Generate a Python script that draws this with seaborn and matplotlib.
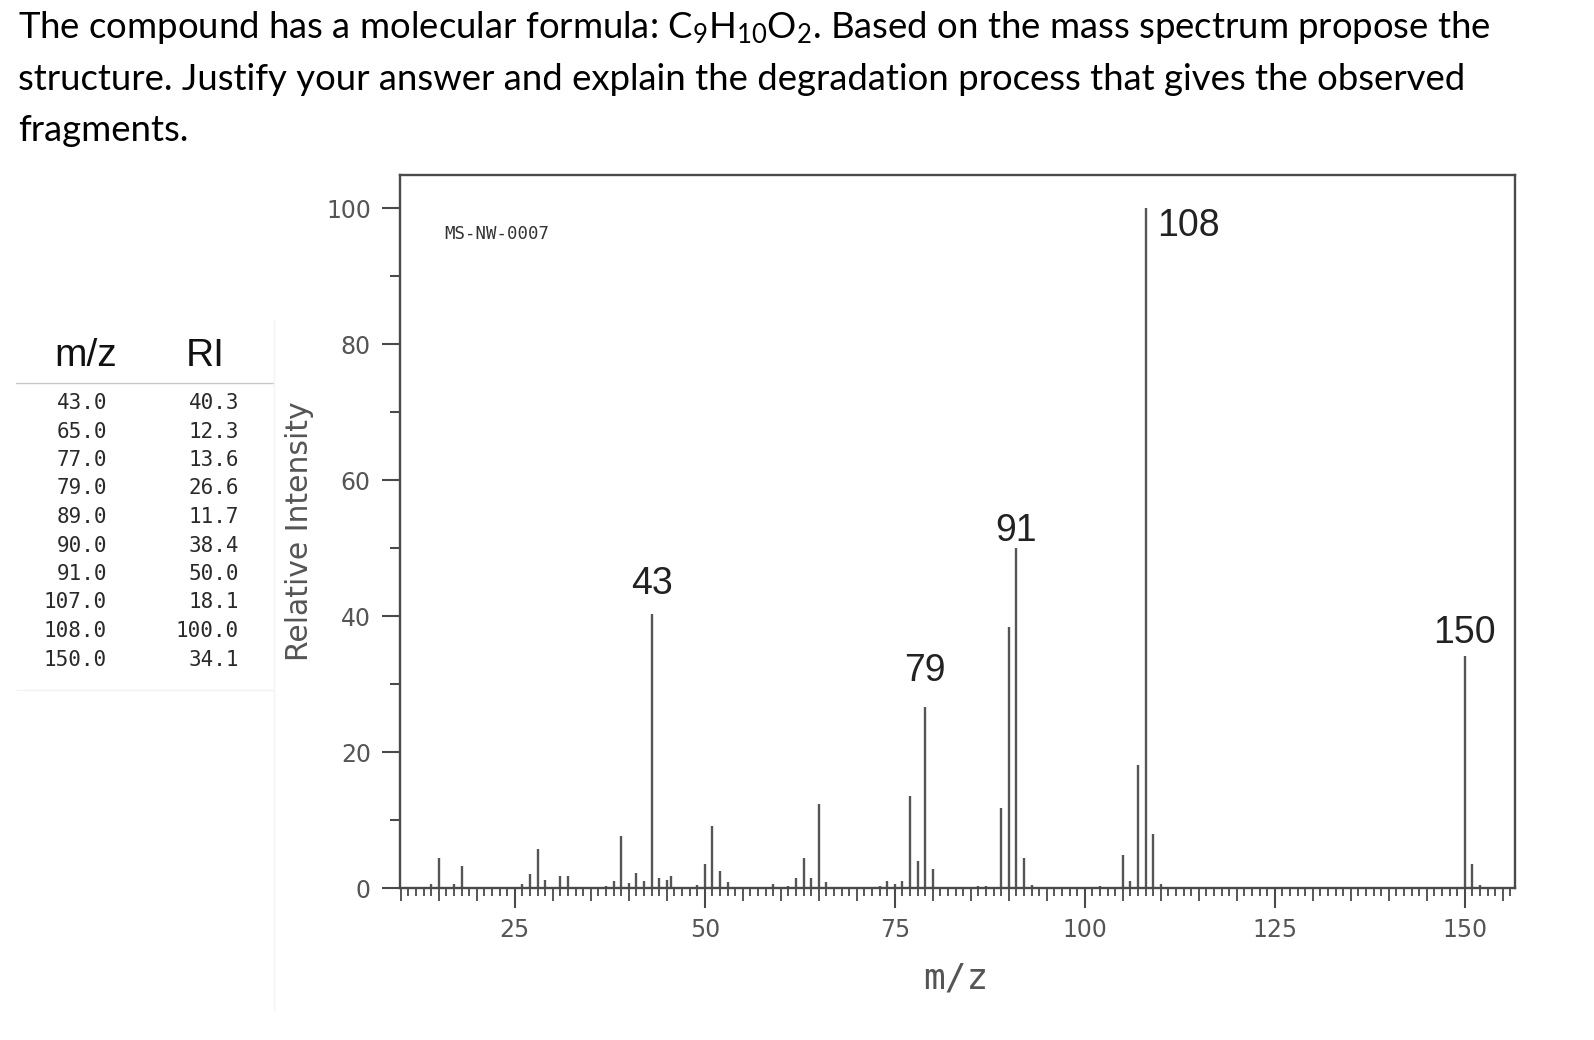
import matplotlib
matplotlib.use("Agg")
import matplotlib.pyplot as plt
from matplotlib.lines import Line2D
from matplotlib.ticker import MultipleLocator
import seaborn as sns

# peak list (m/z, relative intensity)
mz = [14, 15, 17, 18, 26, 27, 28, 29, 31, 32, 37, 38, 39, 40, 41, 42, 43, 44, 45, 45.5,
      49, 50, 51, 52, 53, 59, 61, 62, 63, 64, 65, 66, 73, 74, 75, 76, 77, 78, 79, 80,
      86, 87, 89, 90, 91, 92, 93, 102, 105, 106, 107, 108, 109, 110, 150, 151, 152]
ri = [0.6, 4.4, 0.6, 3.3, 0.6, 2.0, 5.8, 1.2, 1.7, 1.7, 0.3, 1.1, 7.7, 0.7, 2.2, 1.0, 40.3, 1.5, 1.2, 1.7,
      0.4, 3.6, 9.1, 2.5, 0.9, 0.6, 0.3, 1.5, 4.4, 1.5, 12.3, 0.9, 0.3, 1.0, 0.6, 1.0, 13.6, 3.9, 26.6, 2.8,
      0.3, 0.3, 11.7, 38.4, 50.0, 4.4, 0.5, 0.3, 4.8, 1.0, 18.1, 100.0, 8.0, 0.6, 34.1, 3.6, 0.5]

# table at the left
table_mz = ["43.0", "65.0", "77.0", "79.0", "89.0", "90.0", "91.0", "107.0", "108.0", "150.0"]
table_ri = ["40.3", "12.3", "13.6", "26.6", "11.7", "38.4", "50.0", "18.1", "100.0", "34.1"]

labelled = [43, 79, 91, 108, 150]
label_offsets = {43: (0, 22), 79: (0, 26), 91: (0, 12), 108: (8, -13), 150: (0, 16.5)}

question = [
    r"The compound has a molecular formula: $\mathrm{C_9H_{10}O_2}$. Based on the mass spectrum propose the",
    "structure. Justify your answer and explain the degradation process that gives the observed",
    "fragments.",
]

sns.set_theme(style="white")
plt.rcParams["font.family"] = ["DejaVu Sans"]
plt.rcParams["mathtext.fontset"] = "custom"
plt.rcParams["mathtext.rm"] = "Lato"

W, H = 1594, 1040
fig = plt.figure(figsize=(W / 100, H / 100), dpi=100)
ax = fig.add_axes([400 / W, 1 - 888 / H, 1115 / W, 713 / H])

line_col = "#4a4a4a"
ax.vlines(mz, 0, ri, color="#555555", lw=1.7)
ax.set_xlim(9.9, 156.6)
ax.set_ylim(0, 104.9)

for sp in ax.spines.values():
    sp.set_color(line_col)
    sp.set_linewidth(1.7)

ax.xaxis.set_major_locator(MultipleLocator(25))
ax.xaxis.set_minor_locator(MultipleLocator(1))
ax.yaxis.set_major_locator(MultipleLocator(20))
ax.yaxis.set_minor_locator(MultipleLocator(10))
ax.tick_params(axis="both", which="both", direction="out", color=line_col,
               bottom=True, left=True, top=False, right=False)
ax.tick_params(axis="x", which="major", length=14.4, width=1.5, pad=7,
               labelsize=17, labelcolor="#555555")
ax.tick_params(axis="x", which="minor", length=6, width=1.3)
ax.tick_params(axis="y", which="major", length=13, width=1.5, pad=8,
               labelsize=17, labelcolor="#555555")
ax.tick_params(axis="y", which="minor", length=7, width=1.5)

# every fifth minor tick is a bit longer
locs = ax.xaxis.get_minorticklocs()
for loc, t in zip(locs, ax.xaxis.get_minor_ticks(len(locs))):
    if abs(loc % 5) < 1e-6:
        t.tick1line.set_markersize(9.4)

ax.text(0.0395, 0.917, "MS-NW-0007", transform=ax.transAxes, family="DejaVu Sans Mono",
        fontsize=12.5, color="#333333", va="center", ha="left")

for m in labelled:
    h = ri[mz.index(m)]
    dx, dy = label_offsets[m]
    ax.annotate(str(m), (m, h), xytext=(dx, dy), textcoords="offset points",
                ha="left" if dx else "center", va="center",
                family="Liberation Sans", fontsize=27, color="#222222")

fig.text(300 / W, 1 - 531 / H, "Relative Intensity", rotation=90, ha="center", va="center",
         fontsize=21.5, color="#555555")
fig.text(956 / W, 1 - 978 / H, "m/z", ha="center", va="center", family="DejaVu Sans Mono",
         fontsize=26, color="#555555")

# question text
for i, line in enumerate(question):
    fig.text(18 / W, 1 - (38 + 51.5 * i) / H, line, family="Lato", fontsize=26.3,
             color="#000000", ha="left", va="baseline")

# table
fig.text(86 / W, 1 - 366 / H, "m/z", ha="center", va="baseline", family="Liberation Sans",
         fontsize=28, color="#111111")
fig.text(205 / W, 1 - 366 / H, "RI", ha="center", va="baseline", family="Liberation Sans",
         fontsize=28, color="#111111")
for i, (a, b) in enumerate(zip(table_mz, table_ri)):
    y = 1 - (403 + 28.5 * i) / H
    fig.text(107 / W, y, a, ha="right", va="center", family="DejaVu Sans Mono",
             fontsize=15, color="#2a2a2a")
    fig.text(239 / W, y, b, ha="right", va="center", family="DejaVu Sans Mono",
             fontsize=15, color="#2a2a2a")

fig.add_artist(Line2D([16 / W, 274 / W], [1 - 383 / H] * 2, color="#c8c8c8", lw=1))
fig.add_artist(Line2D([16 / W, 274 / W], [1 - 690 / H] * 2, color="#f2f2f2", lw=1))
fig.add_artist(Line2D([274 / W] * 2, [1 - 320 / H, 1 - 1010 / H], color="#f4f4f4", lw=1))

fig.savefig("out.png", dpi=100)
